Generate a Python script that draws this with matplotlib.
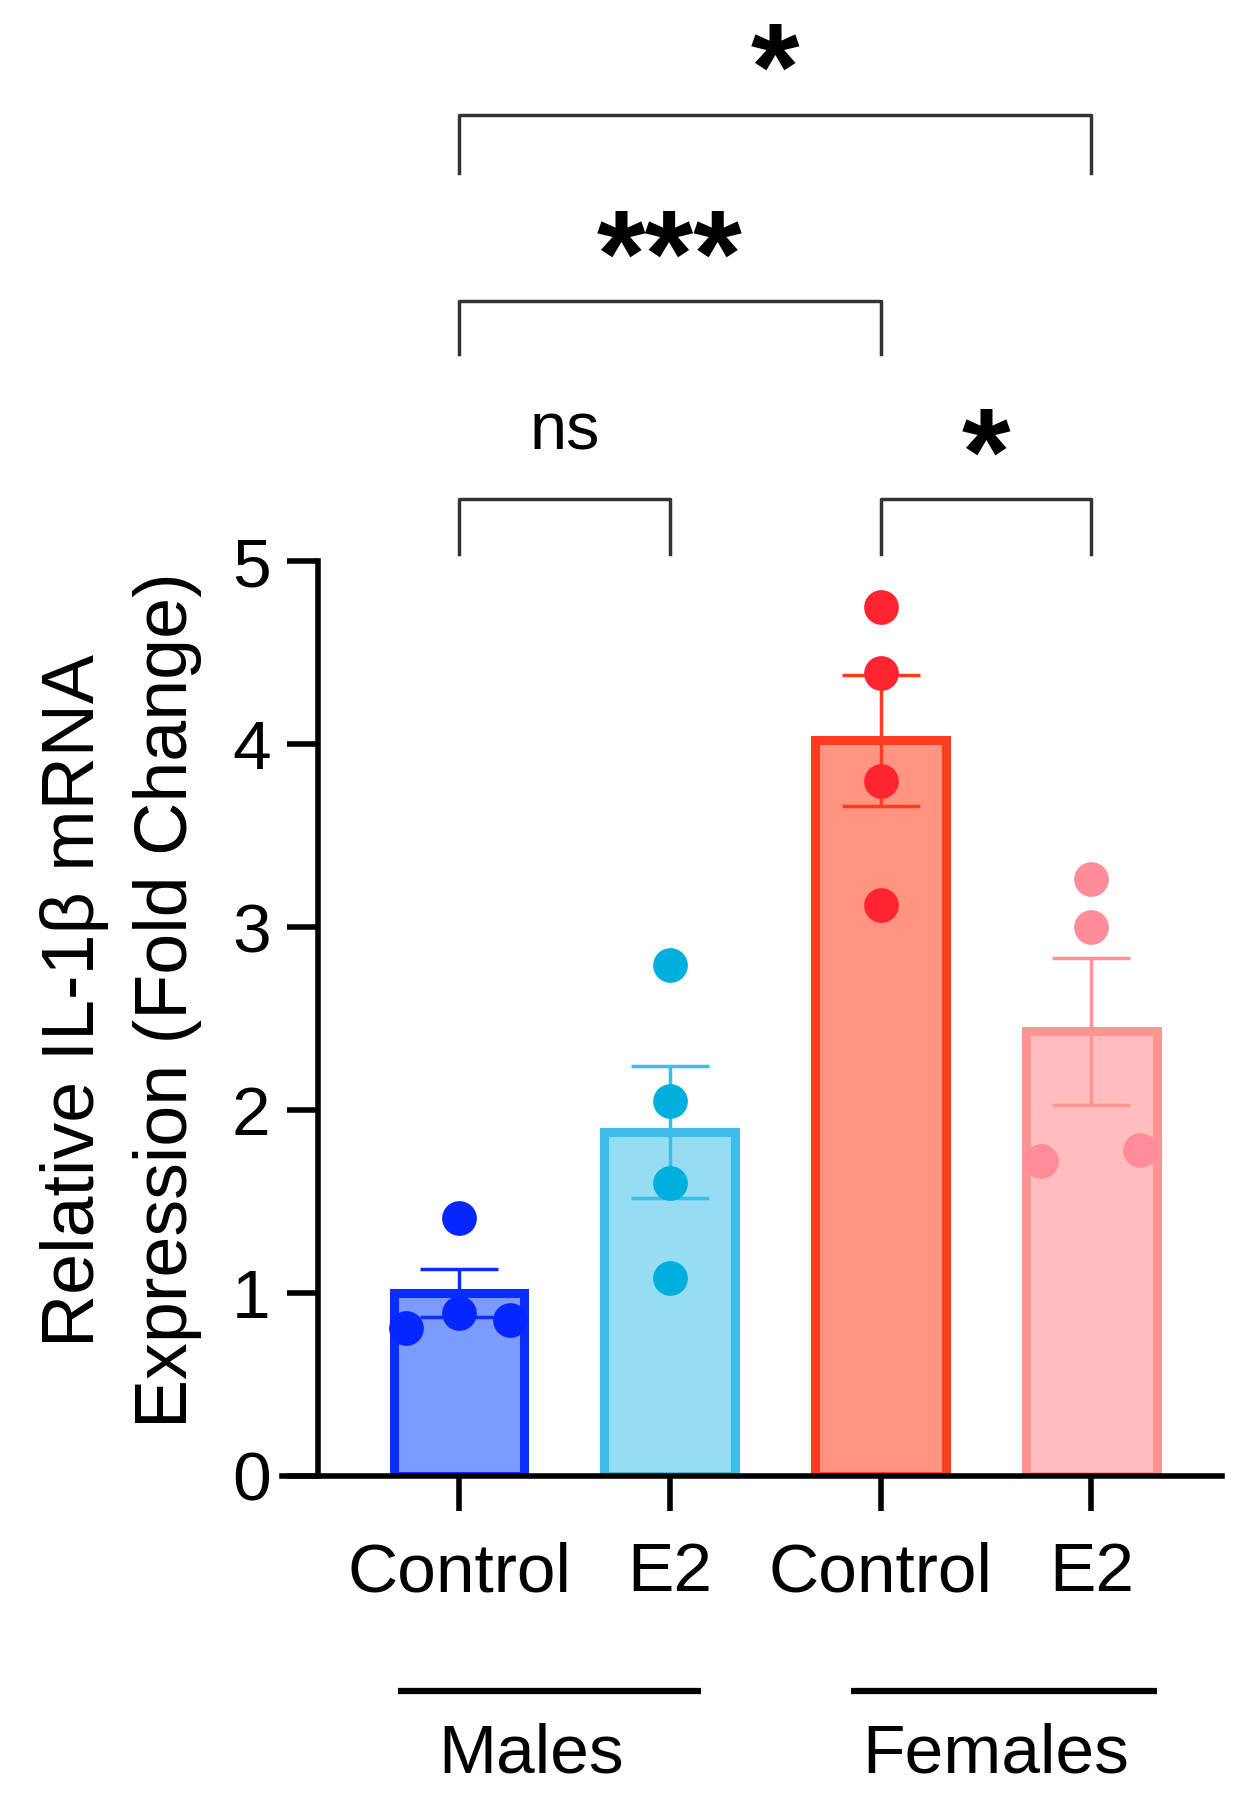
import numpy as np
import matplotlib
matplotlib.use('Agg')
import matplotlib.pyplot as plt

plt.rcParams['font.family'] = ['Liberation Sans', 'DejaVu Sans']

# data
labels = ['Control', 'E2', 'Control', 'E2']
means = [1.00, 1.88, 4.02, 2.43]
sems = [0.13, 0.36, 0.36, 0.40]
pts_male_ctrl = [0.81, 1.41, 0.89, 0.85]
pts_male_e2 = [2.79, 2.05, 1.60, 1.08]
pts_fem_ctrl = [4.75, 4.39, 3.80, 3.12]
pts_fem_e2 = [1.72, 3.26, 3.00, 1.78]
groups = ['Males', 'Females']
comparisons = [(0, 1, 'ns'), (2, 3, '*'), (0, 2, '***'), (0, 3, '*')]

fill_cols = ['#7b9bff', '#94ddf2', '#ff9580', '#ffbdbd']
edge_cols = ['#0a2eff', '#3cbde8', '#ff3b20', '#ff9494']
dot_cols = ['#0526ff', '#00b0dc', '#ff2530', '#ff8c98']

pts = [pts_male_ctrl, pts_male_e2, pts_fem_ctrl, pts_fem_e2]
jitter = [[-0.25, 0, 0, 0.24], [0, 0, 0, 0], [0, 0, 0, 0], [-0.24, 0, 0, 0.23]]

fig = plt.figure(figsize=(12.57, 18.07), dpi=100)
ax = fig.add_axes([0.2243, 0.1832, 0.7479, 0.5063])

x = np.arange(len(labels))
for i in x:
    ax.bar(i, means[i], width=0.62, color=fill_cols[i], edgecolor=edge_cols[i],
           linewidth=6.5, zorder=2)
    ax.errorbar(i, means[i], yerr=sems[i], color=edge_cols[i], elinewidth=2.5,
                capsize=28, capthick=2.5, zorder=3)
    ax.plot(i + np.array(jitter[i]), pts[i], 'o', ms=25, color=dot_cols[i],
            mec='none', zorder=4, clip_on=False)

ax.set_xlim(-0.84, 3.62)
ax.set_ylim(0, 5)
ax.set_yticks([0, 1, 2, 3, 4, 5])
ax.set_xticks(x)
ax.set_xticklabels(labels)
ax.spines['top'].set_visible(False)
ax.spines['right'].set_visible(False)
ax.spines['left'].set_position(('data', -0.67))
for s in ['left', 'bottom']:
    ax.spines[s].set_linewidth(4)
ax.tick_params(axis='y', length=22, width=4, pad=12, labelsize=50)
ax.tick_params(axis='x', length=25, width=4, pad=22, labelsize=50)

ax.set_ylabel('Relative IL-1β mRNA\nExpression (Fold Change)', fontsize=53,
              linespacing=1.45)
ax.yaxis.set_label_coords(-0.085, 0.52)

# significance brackets
heights = [(5.04, 5.34), (5.04, 5.34), (6.13, 6.42), (7.12, 7.44)]
for (a, b, txt), (lo, hi) in zip(comparisons, heights):
    ax.plot([a, a, b, b], [lo, hi, hi, lo], color='#333333', lw=2.5,
            clip_on=False)
    if txt == 'ns':
        ax.text((a + b) / 2, hi + 0.36, txt, ha='center', va='center',
                fontsize=48)
    else:
        ax.text((a + b) / 2, hi + 0.2, txt, ha='center', va='center',
                fontsize=90, fontweight='bold')

# group lines under the tick labels
trans = ax.get_xaxis_transform()
spans = [(-0.29, 1.15), (1.86, 3.31)]
label_x = [0.34, 2.545]
for g, (a, b), lx in zip(groups, spans, label_x):
    ax.plot([a, b], [-0.235, -0.235], color='black', lw=4.5,
            transform=trans, clip_on=False, solid_capstyle='butt')
    ax.text(lx, -0.305, g, ha='center', va='center', fontsize=50,
            transform=trans)

fig.savefig('out.png', dpi=100)
